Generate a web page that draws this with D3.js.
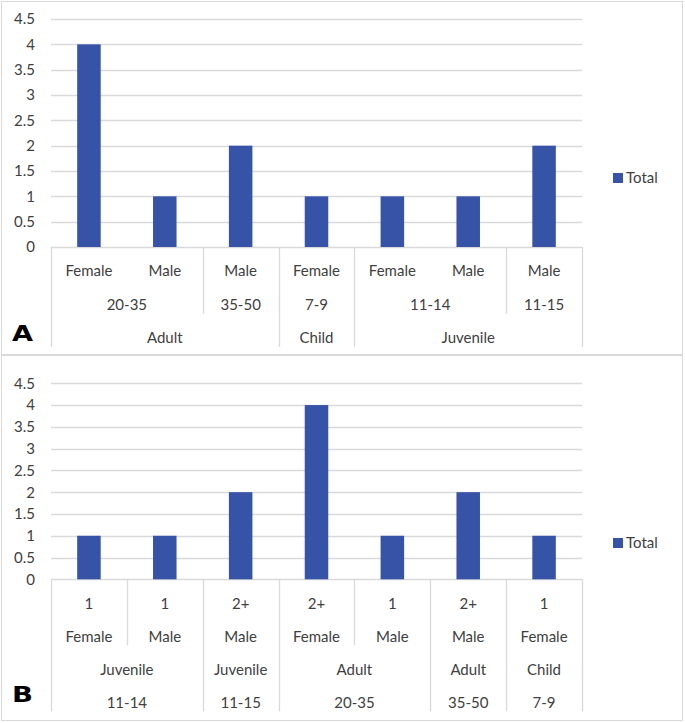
<!DOCTYPE html>
<html>
<head>
<meta charset="utf-8">
<script src="https://cdn.jsdelivr.net/npm/d3@7"></script>
<style>
  html, body { margin: 0; padding: 0; background: #fff; }
  svg text { font-family: Lato, "Open Sans", sans-serif; fill: #404040; }
</style>
</head>
<body>
<svg id="chart" width="685" height="723"></svg>
<script>
// panel A: leaf level first, outermost last
const sexA = ["Female", "Male", "Male", "Female", "Female", "Male", "Male"];
const ageA = ["20-35", "20-35", "35-50", "7-9", "11-14", "11-14", "11-15"];
const groupA = ["Adult", "Adult", "Adult", "Child", "Juvenile", "Juvenile", "Juvenile"];
const valuesA = [4, 1, 2, 1, 1, 1, 2];

// panel B
const countB = ["1", "1", "2+", "2+", "1", "2+", "1"];
const sexB = ["Female", "Male", "Male", "Female", "Male", "Male", "Female"];
const groupB = ["Juvenile", "Juvenile", "Juvenile", "Adult", "Adult", "Adult", "Child"];
const ageB = ["11-14", "11-14", "11-15", "20-35", "20-35", "35-50", "7-9"];
const valuesB = [1, 1, 2, 4, 1, 2, 1];

const yTicks = [0, 0.5, 1, 1.5, 2, 2.5, 3, 3.5, 4, 4.5];
const seriesName = "Total";

const BAR = "#3753a7", GRID = "#d9d9d9";
const svg = d3.select("#chart");

function panel(opt) {
    const g = svg.append("g");
    const levels = opt.levels, n = opt.values.length;

    g.append("rect")
        .attr("x", 1.5).attr("y", opt.box[0] + 0.5)
        .attr("width", 681).attr("height", opt.box[1] - opt.box[0])
        .attr("fill", "none").attr("stroke", GRID);

    const x = d3.scaleBand().domain(d3.range(n)).range([51, 582]).padding(0);
    const y = d3.scaleLinear().domain([0, 4.5]).range([opt.bottom, opt.top]);

    // grid + y labels
    g.append("g").selectAll("line").data(yTicks).join("line")
        .attr("x1", 51).attr("x2", 582)
        .attr("y1", d => Math.round(y(d)) + 0.5).attr("y2", d => Math.round(y(d)) + 0.5)
        .attr("stroke", GRID).attr("stroke-width", 1.3);

    g.append("g").selectAll("text").data(yTicks).join("text")
        .attr("x", 35).attr("y", d => y(d))
        .attr("dy", "0.36em").attr("text-anchor", "end")
        .style("font-size", "15px")
        .text(d => d);

    // bars
    const bw = x.bandwidth() * 0.31;
    g.append("g").selectAll("rect").data(opt.values).join("rect")
        .attr("x", (d, i) => x(i) + (x.bandwidth() - bw) / 2)
        .attr("width", bw)
        .attr("y", d => y(d))
        .attr("height", d => y(0) - y(d))
        .attr("fill", BAR);

    // multi-level category axis
    const rowH = opt.rowH;
    const key = (r, i) => levels.slice(r).map(l => l[i]).join("|");

    levels.forEach((lev, r) => {
        let groups = [];
        for (let i = 0; i < n; i++) {
            let last = groups[groups.length - 1];
            if (r > 0 && last && key(r, last.end) === key(r, i)) last.end = i;
            else groups.push({ start: i, end: i, label: lev[i] });
        }
        g.append("g").selectAll("text").data(groups).join("text")
            .attr("x", d => (x(d.start) + x(d.end) + x.bandwidth()) / 2)
            .attr("y", y(0) + 24 + r * rowH)
            .attr("dy", "0.36em").attr("text-anchor", "middle")
            .style("font-size", "15px")
            .text(d => d.label);
    });

    // separators: line runs down through the deepest row whose grouping splits
    const seps = d3.range(n + 1).map(i => {
        if (i === 0 || i === n) return { i, depth: levels.length };
        let depth = 0;
        for (let r = 1; r < levels.length; r++)
            if (key(r, i - 1) !== key(r, i)) depth = r + 1;
        return { i, depth };
    }).filter(d => d.depth > 0);

    g.append("g").selectAll("line").data(seps).join("line")
        .attr("x1", d => Math.round(d.i === n ? x.range()[1] : x(d.i)) + 0.5)
        .attr("x2", d => Math.round(d.i === n ? x.range()[1] : x(d.i)) + 0.5)
        .attr("y1", y(0))
        .attr("y2", d => y(0) + d.depth * rowH)
        .attr("stroke", GRID).attr("stroke-width", 1.3);

    // legend
    const lg = g.append("g").attr("transform", `translate(613,${opt.legendY})`);
    lg.append("rect").attr("x", 0).attr("y", -5).attr("width", 10).attr("height", 10).attr("fill", BAR);
    lg.append("text").attr("x", 13).attr("y", 0).attr("dy", "0.36em")
        .style("font-size", "15px").text(seriesName);

    // panel letter
    g.append("text")
        .attr("x", 12).attr("y", opt.letterY)
        .attr("textLength", 21).attr("lengthAdjust", "spacingAndGlyphs")
        .style("font-family", "'DejaVu Sans', sans-serif")
        .style("font-weight", 900).style("font-size", "22px")
        .style("fill", "#000")
        .text(opt.letter);
}

panel({
    box: [1, 354], top: 19, bottom: 247, rowH: 33.3,
    levels: [sexA, ageA, groupA], values: valuesA,
    legendY: 178, letter: "A", letterY: 341
});

panel({
    box: [355, 720], top: 383.3, bottom: 579.3, rowH: 33,
    levels: [countB, sexB, groupB, ageB], values: valuesB,
    legendY: 543, letter: "B", letterY: 702
});
</script>
</body>
</html>
